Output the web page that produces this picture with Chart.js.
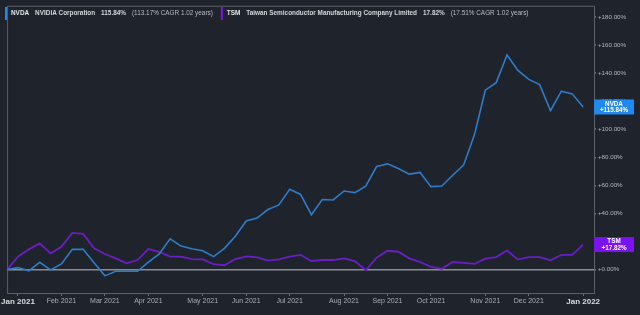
<!DOCTYPE html>
<html>
<head>
<meta charset="utf-8">
<script src="https://cdn.jsdelivr.net/npm/chart.js@4.4.0/dist/chart.umd.min.js"></script>
<style>
  html, body { margin: 0; padding: 0; background: #1f232c; }
  #grafico { display: block; }
</style>
</head>
<body>
<canvas id="grafico" width="640" height="315"></canvas>
<script>
// datas semanais (sextas-feiras), o ultimo rotulo vazio so da folga a direita
const datas = [
  '2020-12-31',
  '2021-01-08', '2021-01-15', '2021-01-22', '2021-01-29',
  '2021-02-05', '2021-02-12', '2021-02-19', '2021-02-26',
  '2021-03-05', '2021-03-12', '2021-03-19', '2021-03-26',
  '2021-04-02', '2021-04-09', '2021-04-16', '2021-04-23', '2021-04-30',
  '2021-05-07', '2021-05-14', '2021-05-21', '2021-05-28',
  '2021-06-04', '2021-06-11', '2021-06-18', '2021-06-25',
  '2021-07-02', '2021-07-09', '2021-07-16', '2021-07-23', '2021-07-30',
  '2021-08-06', '2021-08-13', '2021-08-20', '2021-08-27',
  '2021-09-03', '2021-09-10', '2021-09-17', '2021-09-24',
  '2021-10-01', '2021-10-08', '2021-10-15', '2021-10-22', '2021-10-29',
  '2021-11-05', '2021-11-12', '2021-11-19', '2021-11-26',
  '2021-12-03', '2021-12-10', '2021-12-17', '2021-12-24', '2021-12-31',
  '2022-01-07',
  ''
];

// retorno acumulado em %
const nvda = [
  0, 1.4, -0.9, 5.2, -0.2, 4.0, 14.4, 14.4, 4.9, -4.5,
  -1.2, -1.2, -1.2, 5.3, 11.2, 21.9, 16.7, 14.8, 13.4, 9.2,
  15.1, 23.8, 34.6, 36.7, 42.8, 46.1, 57.2, 53.5, 39.1, 49.9,
  49.6, 56.0, 54.8, 59.5, 73.4, 75.3, 72.0, 68.0, 69.2, 59.1,
  59.5, 67.2, 74.4, 96.0, 127.8, 133.2, 152.9, 141.9, 135.5, 131.8,
  113.2, 127.1, 125.2, 115.84
];

const tsm = [
  0, 9.2, 14.4, 18.6, 11.5, 16.2, 26.1, 25.4, 15.1, 11.1,
  8.0, 4.5, 6.8, 14.6, 12.6, 9.2, 9.2, 7.5, 7.3, 3.8,
  3.1, 7.5, 9.4, 8.7, 6.4, 7.3, 9.2, 10.5, 6.1, 6.8,
  6.8, 8.0, 6.1, -0.5, 8.5, 13.4, 12.7, 8.0, 5.4, 1.9,
  0.6, 5.4, 4.7, 4.0, 7.8, 8.9, 13.6, 7.1, 8.9, 8.9,
  6.6, 10.4, 10.4, 17.82
];

const meses = ['Jan', 'Feb', 'Mar', 'Apr', 'May', 'Jun', 'Jul', 'Aug', 'Sep', 'Oct', 'Nov', 'Dec'];

const tickers = ['NVDA', 'TSM'];
const nomes = ['NVIDIA Corporation', 'Taiwan Semiconductor Manufacturing Company Limited'];
const totais = ['115.84%', '17.82%'];
const cagrs = ['(113.17% CAGR 1.02 years)', '(17.51% CAGR 1.02 years)'];

const corLinha = ['#2f7cc9', '#6a1ec4'];
const corCaixa = ['#2189ee', '#7a12f2'];
const fonte = "'Liberation Sans', Arial, sans-serif";

function mesDe(i) {
  const p = datas[i].split('-');
  return { ano: +p[0], mes: +p[1] - 1 };
}

// indice onde comeca cada mes
function inicioMes(i) {
  if (i < 1 || !datas[i]) return false;
  return mesDe(i).mes !== mesDe(i - 1).mes;
}

const moldura = {
  id: 'moldura',
  beforeDatasetsDraw(chart) {
    const a = chart.chartArea;
    const ctx = chart.ctx;
    ctx.save();
    ctx.strokeStyle = '#5b5f68';
    ctx.lineWidth = 1;
    ctx.strokeRect(a.left + 0.5, a.top + 0.5, a.right - a.left, a.bottom - a.top);
    ctx.restore();
  }
};

const etiquetas = {
  id: 'etiquetas',
  afterDraw(chart) {
    const ctx = chart.ctx;
    const a = chart.chartArea;
    const y = chart.scales.y;
    ctx.save();

    // caixas com o ultimo valor
    chart.data.datasets.forEach((ds, k) => {
      const v = ds.data[ds.data.length - 1];
      const py = y.getPixelForValue(v);
      ctx.fillStyle = corCaixa[k];
      ctx.fillRect(a.right, py - 7.5, 40, 15);
      ctx.fillStyle = '#ffffff';
      ctx.textAlign = 'center';
      ctx.textBaseline = 'middle';
      ctx.font = 'bold 6.3px ' + fonte;
      ctx.fillText(tickers[k], a.right + 20, py - 3.2);
      ctx.fillText('+' + v.toFixed(2) + '%', a.right + 20, py + 3.6);
    });

    // legenda no topo
    let x = 5;
    const ly = 13.5;
    ctx.textAlign = 'left';
    ctx.textBaseline = 'middle';
    tickers.forEach((t, k) => {
      ctx.fillStyle = corCaixa[k];
      ctx.fillRect(x, 7, 2, 13);
      x += 6;
      ctx.fillStyle = '#e6e8ec';
      ctx.font = 'bold 6.4px ' + fonte;
      ctx.fillText(t, x, ly);
      x += ctx.measureText(t).width + 6;
      ctx.fillStyle = '#d4d7dc';
      ctx.fillText(nomes[k], x, ly);
      x += ctx.measureText(nomes[k]).width + 6;
      ctx.fillText(totais[k], x, ly);
      x += ctx.measureText(totais[k]).width + 6;
      ctx.font = '6.4px ' + fonte;
      ctx.fillStyle = '#b9bcc3';
      ctx.fillText(cagrs[k], x, ly);
      x += ctx.measureText(cagrs[k]).width + 8;
    });
    ctx.restore();
  }
};

const grafico = new Chart(document.getElementById('grafico').getContext('2d'), {
  type: 'line',
  data: {
    labels: datas,
    datasets: [{
      label: 'NVDA',
      data: nvda,
      borderColor: corLinha[0],
      borderWidth: 1.6,
      pointRadius: 0,
      tension: 0
    }, {
      label: 'TSM',
      data: tsm,
      borderColor: corLinha[1],
      borderWidth: 1.8,
      pointRadius: 0,
      tension: 0
    }]
  },
  options: {
    responsive: false,
    animation: false,
    devicePixelRatio: 1,
    layout: { padding: { top: 3, left: 3, right: 0, bottom: 0 }, autoPadding: false },
    plugins: {
      legend: { display: false },
      tooltip: { enabled: false }
    },
    scales: {
      x: {
        type: 'category',
        offset: false,
        afterBuildTicks: axis => { axis.ticks = axis.ticks.filter(t => inicioMes(t.value)); },
        afterFit: axis => { axis.height = 22; },
        border: { display: false },
        grid: { drawOnChartArea: false, tickLength: 3, tickColor: '#6a6e77' },
        ticks: {
          autoSkip: false,
          maxRotation: 0,
          padding: 1,
          callback: function (value) {
            const m = mesDe(value);
            return meses[m.mes] + ' ' + m.ano;
          },
          color: c => mesDe(c.tick.value).mes === 0 ? '#d9dce1' : '#a9adb5',
          font: c => mesDe(c.tick.value).mes === 0
            ? { family: fonte, size: 8, weight: 'bold' }
            : { family: fonte, size: 7 }
        }
      },
      y: {
        position: 'right',
        min: -16.7,
        max: 188,
        afterBuildTicks: axis => {
          axis.ticks = [];
          for (let v = 0; v <= 180; v += 20) axis.ticks.push({ value: v });
        },
        afterFit: axis => { axis.width = 46; },
        border: { display: false },
        grid: {
          color: c => c.tick && c.tick.value === 0 ? '#8a8d94' : 'rgba(0,0,0,0)',
          lineWidth: 1.5,
          tickLength: 2,
          tickColor: '#6a6e77'
        },
        ticks: {
          padding: 2,
          color: '#b4b8bf',
          font: { family: fonte, size: 6.2 },
          callback: v => '+' + v.toFixed(2) + '%'
        }
      }
    }
  },
  plugins: [moldura, etiquetas]
});
</script>
</body>
</html>
